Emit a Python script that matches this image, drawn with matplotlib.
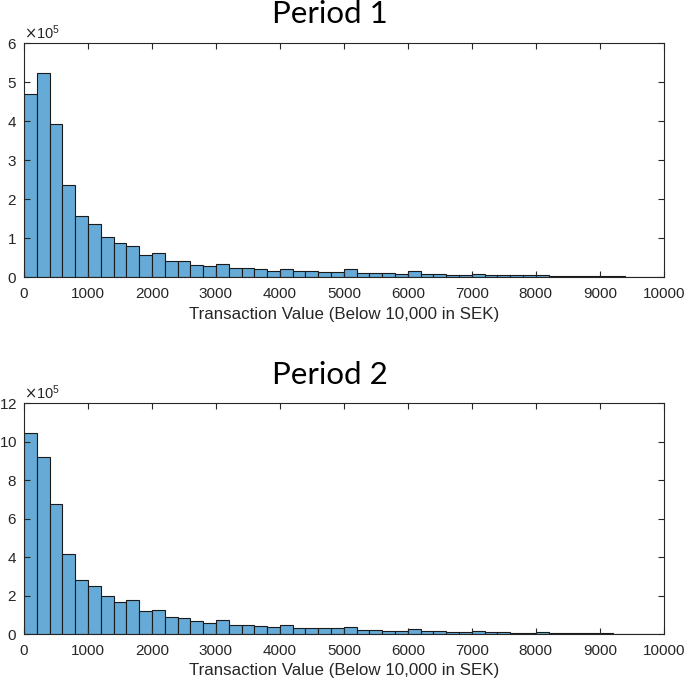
import numpy as np
import matplotlib
matplotlib.use("Agg")
import matplotlib.pyplot as plt
from matplotlib.ticker import ScalarFormatter

# bin edges (SEK), width 200
bin_edges = np.arange(0, 10001, 200)

# counts per bin, in units of 10^5
period1 = [4.70, 5.24, 3.94, 2.36, 1.57, 1.36, 1.03, 0.88, 0.80, 0.58,
           0.62, 0.43, 0.42, 0.32, 0.28, 0.35, 0.23, 0.23, 0.21, 0.17,
           0.21, 0.16, 0.16, 0.14, 0.14, 0.20, 0.11, 0.10, 0.10, 0.09,
           0.15, 0.09, 0.08, 0.07, 0.07, 0.08, 0.06, 0.05, 0.05, 0.05,
           0.06, 0.04, 0.04, 0.035, 0.03, 0.03, 0.025, 0.02, 0.02, 0.02]
period2 = [10.47, 9.20, 6.75, 4.14, 2.83, 2.49, 1.97, 1.64, 1.76, 1.19,
           1.23, 0.86, 0.85, 0.67, 0.59, 0.73, 0.47, 0.47, 0.40, 0.35,
           0.47, 0.33, 0.33, 0.29, 0.29, 0.38, 0.22, 0.21, 0.17, 0.17,
           0.26, 0.17, 0.14, 0.12, 0.10, 0.14, 0.10, 0.09, 0.07, 0.07,
           0.09, 0.05, 0.05, 0.04, 0.03, 0.03, 0.02, 0.02, 0.015, 0.01]

titles = ["Period 1", "Period 2"]
xlabel = "Transaction Value (Below 10,000 in SEK)"
ylims = [6e5, 12e5]
ysteps = [1e5, 2e5]

plt.rcParams['font.family'] = ['Liberation Sans', 'DejaVu Sans']

fig = plt.figure(figsize=(6.85, 6.83), dpi=100)
positions = [[0.035, 0.594, 0.934, 0.3426], [0.035, 0.0717, 0.934, 0.338]]
title_y = [0.979, 0.451]

for pos, data, title, ylim, ystep, ty in zip(positions, [period1, period2],
                                           titles, ylims, ysteps, title_y):
    ax = fig.add_axes(pos)
    counts = np.array(data) * 1e5
    ax.bar(bin_edges[:-1], counts, width=np.diff(bin_edges), align='edge',
           color='#66aad7', edgecolor='#1a1a1a', linewidth=0.8)
    ax.set_xlim(0, 10000)
    ax.set_ylim(0, ylim)
    ax.set_xticks(np.arange(0, 10001, 1000))
    ax.set_yticks(np.arange(0, ylim + 1, ystep))
    fmt = ScalarFormatter(useMathText=True)
    fmt.set_powerlimits((5, 5))
    ax.yaxis.set_major_formatter(fmt)
    ax.yaxis.get_offset_text().set_fontsize(10.5)
    ax.yaxis.get_offset_text().set_color('#262626')
    ax.tick_params(direction='in', top=True, right=True, length=4,
                   width=0.8, labelsize=11, colors='#262626')
    ax.tick_params(axis='x', pad=7)
    ax.tick_params(axis='y', pad=5)
    for s in ax.spines.values():
        s.set_color('#262626')
        s.set_linewidth(0.8)
    ax.set_xlabel(xlabel, fontsize=12.2, color='#262626', labelpad=4)
    fig.text(0.482, ty, title, ha='center', va='center', fontsize=22.5,
             family=['Lato', 'DejaVu Sans'])

fig.savefig("out.png", dpi=100)
